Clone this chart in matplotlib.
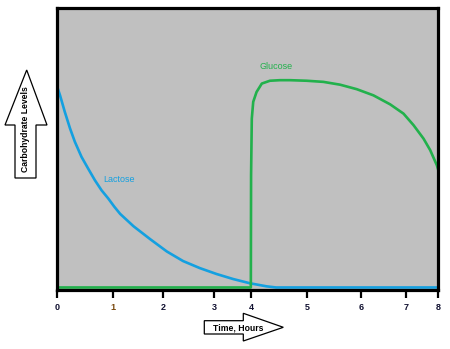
import matplotlib
matplotlib.use("Agg")
import matplotlib.pyplot as plt
from matplotlib.patches import Polygon

plt.rcParams['font.family'] = ['Liberation Sans', 'DejaVu Sans']

# Values (time in hours, level in arbitrary units 0-100)
lactose_time = [0.0, 0.07, 0.17, 0.28, 0.38, 0.52, 0.66, 0.80, 0.94, 1.08,
                1.21, 1.33, 1.61, 1.96, 2.31, 2.65, 3.00, 3.35, 3.70, 4.05,
                4.40, 4.60, 8.0]
lactose_level = [72.0, 68.4, 62.5, 56.6, 51.9, 46.5, 42.3, 38.2, 34.6, 31.7,
                 28.7, 26.2, 21.8, 17.2, 12.8, 9.4, 6.9, 4.8, 3.0, 1.5,
                 0.4, 0.0, 0.0]

glucose_time = [0.0, 4.07, 4.075, 4.09, 4.12, 4.19, 4.30, 4.47, 4.68, 4.89,
                5.24, 5.59, 5.94, 6.29, 6.64, 6.99, 7.27, 7.48, 7.69, 7.83,
                7.97, 8.0]
glucose_level = [0.0, 0.0, 40.0, 60.1, 66.1, 69.6, 72.6, 73.6, 73.8, 73.8,
                 73.6, 73.2, 72.2, 70.6, 68.4, 65.2, 61.9, 57.8, 53.0, 48.9,
                 43.5, 41.8]

# hand-drawn tick marks sit at uneven spots along the axis
tick_pos = [0, 1.17, 2.235, 3.30, 4.07, 5.25, 6.38, 7.32, 8.0]
tick_labels = ['0', '1', '2', '3', '4', '5', '6', '7', '8']

W, H = 450, 349
fig = plt.figure(figsize=(W / 100, H / 100), dpi=100)
ax = fig.add_axes([56.7 / W, (H - 290) / H, (438.3 - 56.7) / W, 282 / H])
ax.set_facecolor('#c0c0c0')

ax.plot(lactose_time, lactose_level, color='#14a0e0', lw=1.9,
        solid_capstyle='butt', solid_joinstyle='round')
ax.plot(glucose_time, glucose_level, color='#22b14c', lw=1.9,
        solid_capstyle='butt', solid_joinstyle='round')

ax.text(1.30, 38.5, 'Lactose', color='#14a0e0', fontsize=6.5, ha='center', va='center')
ax.text(4.60, 78.5, 'Glucose', color='#22b14c', fontsize=6.5, ha='center', va='center')

ax.set_xlim(0, 8)
ax.set_ylim(-0.9, 99.5)
ax.set_yticks([])
ax.set_xticks(tick_pos)
ax.set_xticklabels(tick_labels, fontsize=6.5, fontweight='bold')
for lbl in ax.get_xticklabels():
    lbl.set_color('#101030')
ax.get_xticklabels()[1].set_color('#7a4a10')
ax.tick_params(axis='x', direction='out', length=5.5, width=1.6, pad=4)
for sp in ax.spines.values():
    sp.set_linewidth(2.3)
    sp.set_color('black')


def px(points):
    return [(x / W, (H - y) / H) for x, y in points]


# vertical block arrow for the y label
up = px([(15, 178), (36, 178), (36, 125), (47, 125), (26.7, 70), (5, 125), (15, 125)])
fig.patches.append(Polygon(up, closed=True, transform=fig.transFigure,
                           facecolor='white', edgecolor='black', lw=0.9))
fig.text(26 / W, (H - 129) / H, 'Carbohydrate Levels', rotation=90,
         fontsize=6.2, fontweight='bold', ha='center', va='center')

# horizontal block arrow for the x label
right = px([(204.3, 320.7), (243.3, 320.7), (243.3, 313.3), (283.3, 327.3),
            (243.3, 341), (243.3, 334), (204.3, 334)])
fig.patches.append(Polygon(right, closed=True, transform=fig.transFigure,
                           facecolor='white', edgecolor='black', lw=0.9))
fig.text(238 / W, (H - 328) / H, 'Time, Hours', fontsize=6.2, fontweight='bold',
         ha='center', va='center')

fig.savefig('out.png', dpi=100, facecolor='white')
